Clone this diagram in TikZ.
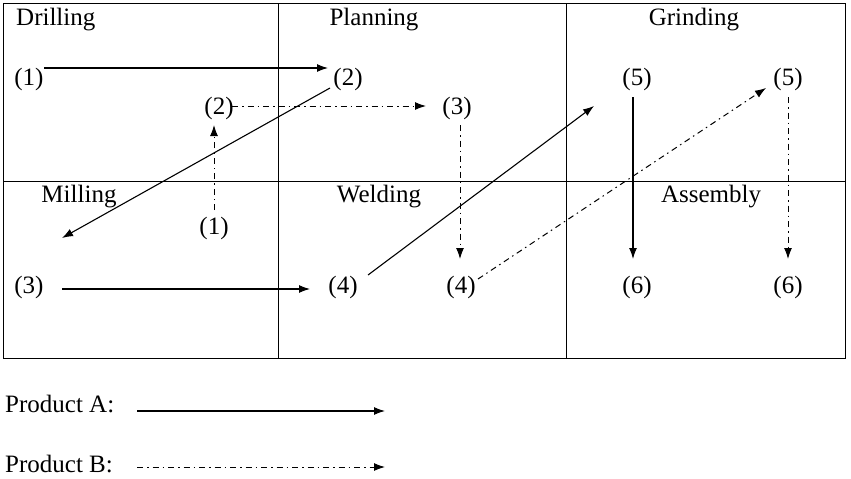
\documentclass[tikz,border=0pt]{standalone}
\usepackage{fontspec}
\setmainfont{Liberation Serif}
\usetikzlibrary{arrows.meta}
\begin{document}
\begin{tikzpicture}[x=1pt,y=-1pt,
  lbl/.style={font=\fontsize{25}{30}\selectfont,inner sep=0pt},
  pa/.style={-{Latex[length=11pt,width=8pt]},line width=1.1pt},
  pb/.style={-{Latex[length=11pt,width=8pt]},line width=1pt,dash pattern=on 6pt off 4pt on 1.5pt off 4pt}]
\useasboundingbox (0,0) rectangle (851,479);
\draw[line width=0.8pt] (3,3) rectangle (845,358);
\draw[line width=0.8pt] (3,181) -- (845,181) (278,3) -- (278,358) (566,3) -- (566,358);
\node[lbl,anchor=west] (dr) at (16,20) {Drilling};
\node[lbl] (pl) at (374,20) {Planning};
\node[lbl] (gr) at (694,20) {Grinding};
\node[lbl] (mi) at (79,197) {Milling};
\node[lbl] (we) at (379,197) {Welding};
\node[lbl] (as) at (711,197) {Assembly};
\node[lbl] (a1) at (29,79) {(1)};
\node[lbl] (a2) at (348,79) {(2)};
\node[lbl] (a5) at (637,79) {(5)};
\node[lbl] (b5) at (788,79) {(5)};
\node[lbl] (b2) at (219,108) {(2)};
\node[lbl] (b3) at (457,108) {(3)};
\node[lbl] (b1) at (214,228) {(1)};
\node[lbl] (a3) at (29,287) {(3)};
\node[lbl] (a4) at (343,287) {(4)};
\node[lbl] (b4) at (461,287) {(4)};
\node[lbl] (a6) at (637,287) {(6)};
\node[lbl] (b6) at (788,287) {(6)};
\coordinate (p1) at (44,68); \coordinate (p2) at (328,68);
\coordinate (p3) at (330,88); \coordinate (p4) at (62,238);
\coordinate (p5) at (62,289); \coordinate (p6) at (310,289);
\coordinate (p7) at (368,275); \coordinate (p8) at (594,106);
\coordinate (p9) at (633,97); \coordinate (p10) at (633,259);
\coordinate (q1) at (214,210); \coordinate (q2) at (214,125);
\coordinate (q3) at (232,106); \coordinate (q4) at (426,106);
\coordinate (q5) at (460,125); \coordinate (q6) at (460,259);
\coordinate (q7) at (478,279); \coordinate (q8) at (766,88);
\coordinate (q9) at (788,97); \coordinate (q10) at (788,259);
\draw[pa] (p1) -- (p2);
\draw[pa] (p3) -- (p4);
\draw[pa] (p5) -- (p6);
\draw[pa] (p7) -- (p8);
\draw[pa] (p9) -- (p10);
\draw[pb] (q1) -- (q2);
\draw[pb] (q3) -- (q4);
\draw[pb] (q5) -- (q6);
\draw[pb] (q7) -- (q8);
\draw[pb] (q9) -- (q10);
\node[lbl,anchor=west] (la) at (5,404) {Product A:};
\node[lbl,anchor=west] (lb) at (5,464) {Product B:};
\coordinate (l1) at (137,411); \coordinate (l2) at (385,411);
\coordinate (l3) at (137,467); \coordinate (l4) at (385,467);
\draw[pa] (l1) -- (l2);
\draw[pb] (l3) -- (l4);
\end{tikzpicture}
\end{document}
